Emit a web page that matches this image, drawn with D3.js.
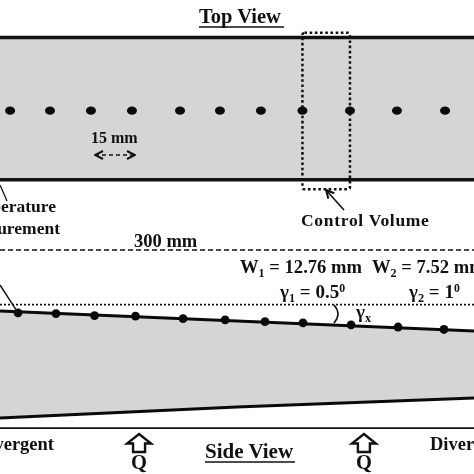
<!DOCTYPE html>
<html>
<head>
<meta charset="utf-8">
<script src="https://d3js.org/d3.v7.min.js"></script>
<style>
html, body { margin: 0; padding: 0; background: #fff; overflow: hidden; }
text { font-family: "Liberation Serif", serif; font-weight: bold; fill: #111; }
</style>
</head>
<body>
<script>
// all lengths in mm
var topDots = [3.7, 18.3, 33.3, 48.3, 65.9, 80.5, 95.5, 110.7, 128.1, 145.3, 162.9];
var sideDotsX = [6.6, 20.5, 34.6, 49.6, 67, 82.4, 97, 110.9, 128.5, 145.7, 162.5];
var sideDotsY = [59, 58.7, 58, 57.8, 56.9, 56.4, 55.8, 55.3, 54.6, 53.8, 52.9];
var topWallX = [0, 173.5];
var topWallY = [59.7, 52.3];
var bottomWallX = [0, 86.7, 173.5];
var bottomWallY = [20.5, 24.5, 27.8];
var railY = [159.8, 107.7];
var dotRowY = 133;
var controlVolume = [110.7, 128.1];
var controlVolumeY = [161.5, 104.2];
var heatX = [50.9, 133.2];
var dashY = 82;
var dottedY = 62;
var baseY = 16.8;

var size = 474;
var x = d3.scaleLinear().domain([0, 173.5]).range([0, size]);
var y = d3.scaleLinear().domain([0, 173.5]).range([size, 0]);

var svg = d3.select("body").append("svg")
    .attr("width", size)
    .attr("height", size)
    .style("display", "block");

svg.append("defs").append("marker")
    .attr("id", "head")
    .attr("viewBox", "0 0 10 10")
    .attr("refX", 9)
    .attr("refY", 5)
    .attr("markerWidth", 10)
    .attr("markerHeight", 10)
    .attr("markerUnits", "userSpaceOnUse")
    .attr("orient", "auto-start-reverse")
    .append("path")
    .attr("d", "M1,1L9,5L1,9")
    .attr("fill", "none")
    .attr("stroke", "#111")
    .attr("stroke-width", 2);

var g = svg.append("g").style("filter", "blur(0.35px)");

function label(str, px, py, fs, anchor) {
    return g.append("text")
        .attr("x", px)
        .attr("y", py)
        .attr("font-size", fs)
        .attr("text-anchor", anchor || "start")
        .text(str);
}

// label with a subscript and optional superscript, e.g. W1 = 12.76 mm
function subLabel(main, sub, rest, sup, px, py, fs) {
    var t = g.append("text").attr("x", px).attr("y", py).attr("font-size", fs);
    t.append("tspan").text(main);
    t.append("tspan").attr("dy", 4).attr("font-size", fs * 0.65).text(sub);
    t.append("tspan").attr("dy", -4).text(rest);
    if (sup) t.append("tspan").attr("dy", -6).attr("font-size", fs * 0.62).text(sup);
}

function line(x1, y1, x2, y2, w, dash) {
    return g.append("line")
        .attr("x1", x1).attr("y1", y1)
        .attr("x2", x2).attr("y2", y2)
        .attr("stroke", "#111")
        .attr("stroke-width", w)
        .attr("stroke-dasharray", dash || null);
}

// top view
g.append("rect")
    .attr("x", 0)
    .attr("y", y(railY[0]))
    .attr("width", size)
    .attr("height", y(railY[1]) - y(railY[0]))
    .attr("fill", "#d5d5d5");

railY.forEach(function(d) { line(0, y(d), size, y(d), 3.5); });

g.selectAll("ellipse.top")
    .data(topDots)
    .enter().append("ellipse")
    .attr("class", "top")
    .attr("cx", function(d) { return x(d); })
    .attr("cy", y(dotRowY))
    .attr("rx", 5)
    .attr("ry", 4.2)
    .attr("fill", "#0a0a0a");

g.append("rect")
    .attr("x", x(controlVolume[0]))
    .attr("y", y(controlVolumeY[0]))
    .attr("width", x(controlVolume[1]) - x(controlVolume[0]))
    .attr("height", y(controlVolumeY[1]) - y(controlVolumeY[0]))
    .attr("rx", 2)
    .attr("fill", "none")
    .attr("stroke", "#111")
    .attr("stroke-width", 2.5)
    .attr("stroke-dasharray", "2.6 2.6");

label("Top View", 199, 23, 20.5);
line(199, 27, 284, 27, 1.6);

label("15 mm", 91, 143, 16);
line(95, 155, 135, 155, 1.6, "4 3")
    .attr("marker-start", "url(#head)")
    .attr("marker-end", "url(#head)");

line(0, 185, 7, 201, 1.3);
label("Temperature", 56, 212, 17.5, "end");
label("Measurement", 60, 234, 17.5, "end");

line(344, 210, 326, 190, 1.6).attr("marker-end", "url(#head)");
label("Control Volume", 301, 226, 17.5).attr("letter-spacing", 0.7);

// side view
label("300 mm", 134, 247, 18.5);
line(0, y(dashY), size, y(dashY), 1.6, "5 3");
line(0, y(dottedY), size, y(dottedY), 1.6, "2 2");

g.append("path")
    .attr("d", d3.area()
        .x(function(d) { return x(d.x); })
        .y0(function(d) { return y(d.bottom); })
        .y1(function(d) { return y(d.top); })(bottomWallX.map(function(d, i) {
            var t = d3.scaleLinear().domain(topWallX).range(topWallY);
            return {x: d, top: t(d), bottom: bottomWallY[i]};
        })))
    .attr("fill", "#d5d5d5");

var wall = d3.line()
    .x(function(d) { return x(d[0]); })
    .y(function(d) { return y(d[1]); });

g.append("path")
    .attr("d", wall(d3.zip(topWallX, topWallY)))
    .attr("fill", "none")
    .attr("stroke", "#0a0a0a")
    .attr("stroke-width", 3);

g.append("path")
    .attr("d", wall(d3.zip(bottomWallX, bottomWallY)))
    .attr("fill", "none")
    .attr("stroke", "#0a0a0a")
    .attr("stroke-width", 3);

g.selectAll("circle.side")
    .data(d3.zip(sideDotsX, sideDotsY))
    .enter().append("circle")
    .attr("class", "side")
    .attr("cx", function(d) { return x(d[0]); })
    .attr("cy", function(d) { return y(d[1]); })
    .attr("r", 4.4)
    .attr("fill", "#0a0a0a");

line(0, 285, x(sideDotsX[0]), y(sideDotsY[0]), 1.4);

subLabel("W", "1", " = 12.76 mm", null, 240, 273, 18.6);
subLabel("W", "2", " = 7.52 mm", null, 372, 273, 18.6);
subLabel("\u03b3", "1", " = 0.5", "0", 280, 298, 19);
subLabel("\u03b3", "2", " = 1", "0", 409, 298, 19);
subLabel("\u03b3", "x", "", null, 356, 318, 19);

g.append("path")
    .attr("d", "M334,305Q342,314,334,323")
    .attr("fill", "none")
    .attr("stroke", "#111")
    .attr("stroke-width", 1.5);

line(0, y(baseY), size, y(baseY), 1.6);

// heat flux arrows
heatX.forEach(function(d) {
    var cx = x(d);
    g.append("path")
        .attr("d", "M" + cx + ",434L" + (cx + 12) + ",443.5L" + (cx + 6) + ",443.5L" + (cx + 6) + ",452L" +
            (cx - 6) + ",452L" + (cx - 6) + ",443.5L" + (cx - 12) + ",443.5Z")
        .attr("fill", "#fff")
        .attr("stroke", "#111")
        .attr("stroke-width", 2.4);
    label("Q", cx, 469, 20.5, "middle");
});

label("Convergent", 54, 450, 18.5, "end");
label("Divergent", 430, 450, 18.5);
label("Side View", 205, 458, 21);
line(205, 462, 295, 462, 1.6);
</script>
</body>
</html>
